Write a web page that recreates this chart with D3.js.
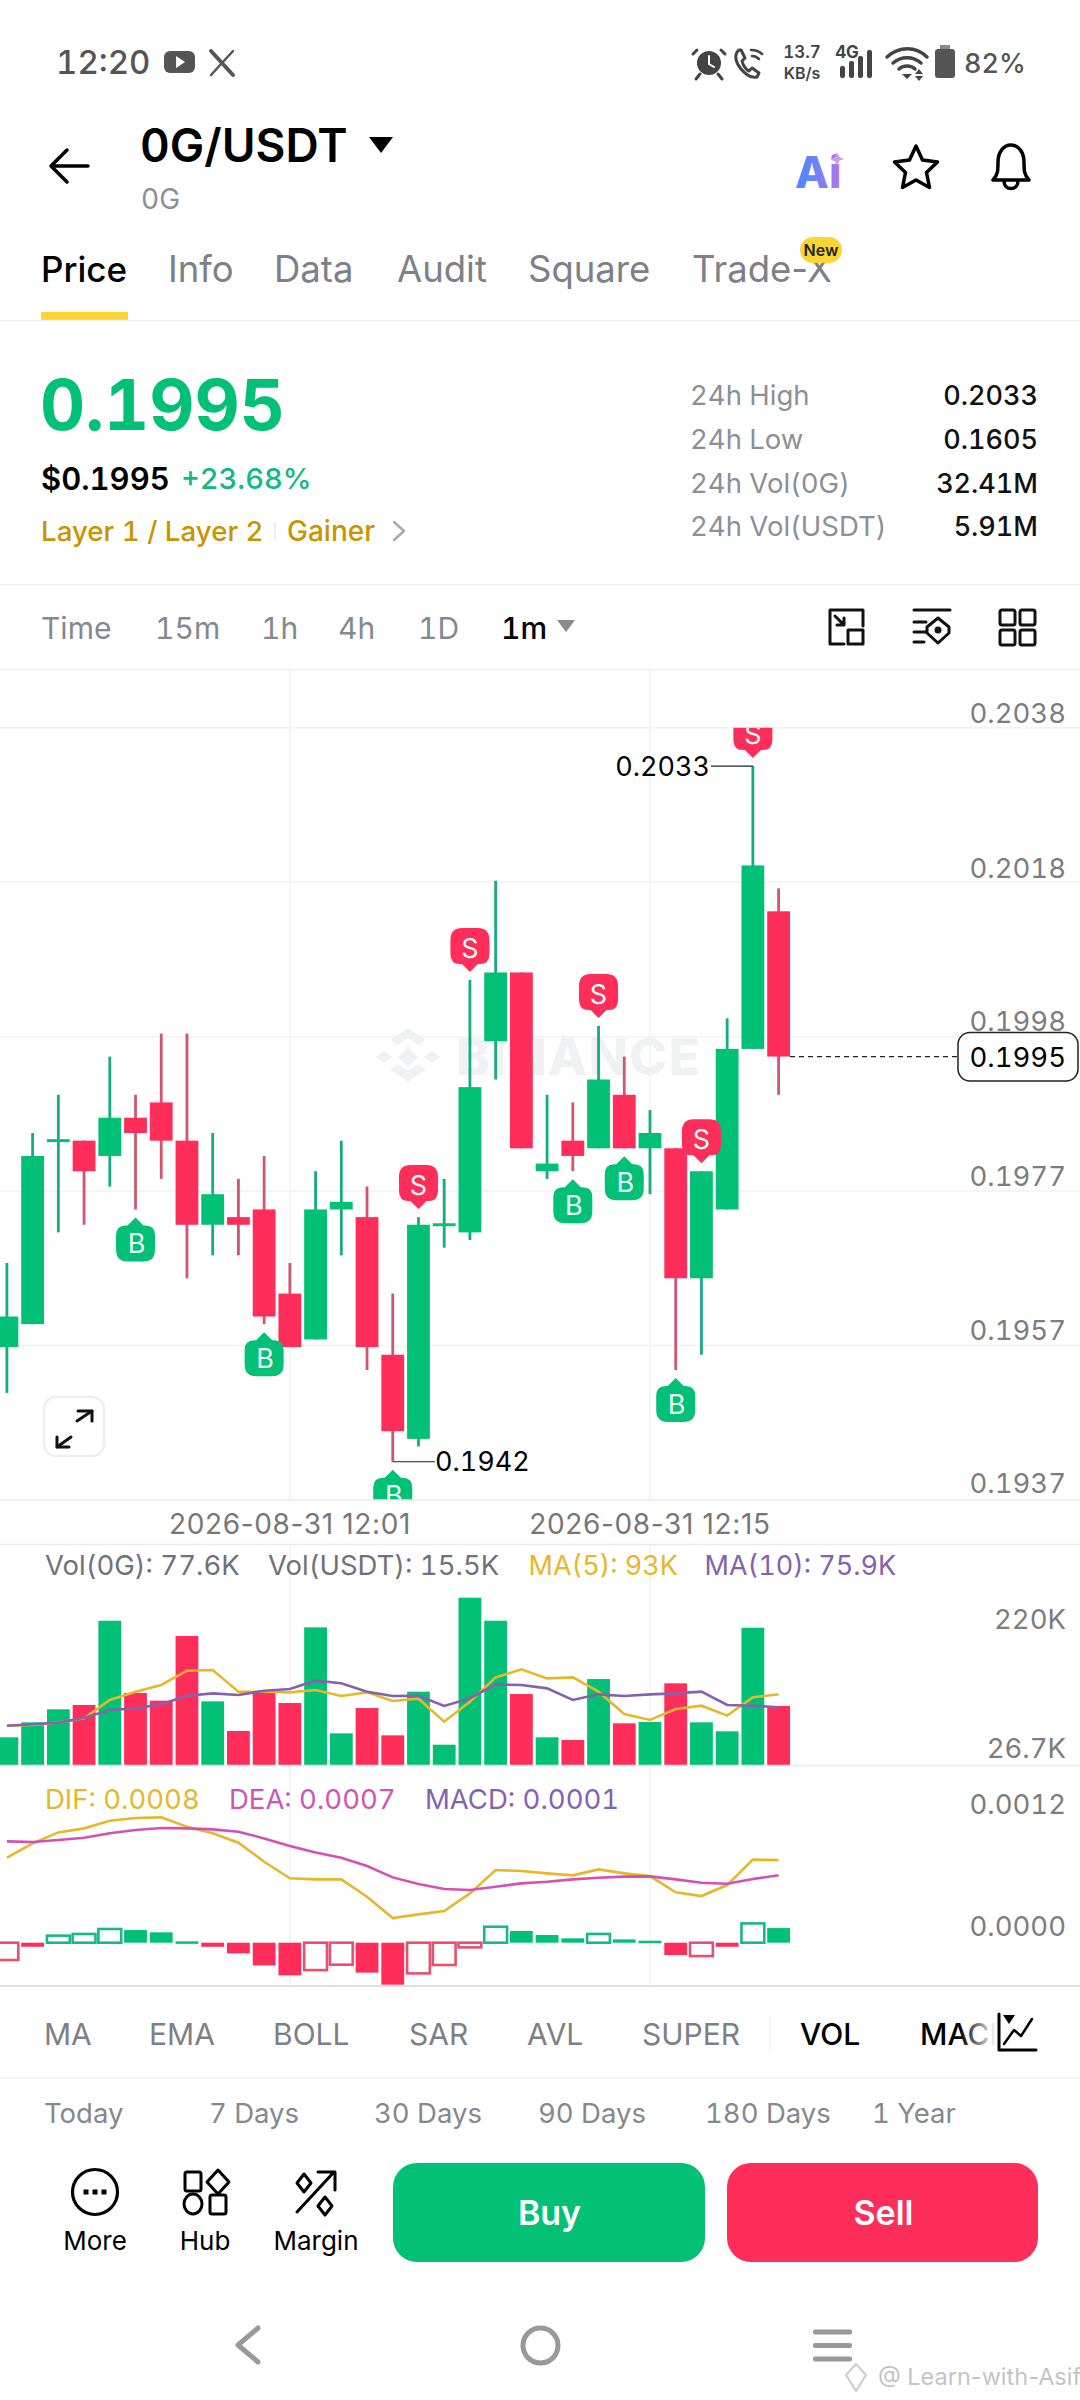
<!DOCTYPE html>
<html>
<head>
<meta charset="utf-8">
<script src="https://cdn.jsdelivr.net/npm/d3@7/dist/d3.min.js"></script>
<style>
html, body { margin: 0; background: #fff; }
svg { display: block; }
text { font-family: Inter, "Noto Sans", sans-serif; font-variant-numeric: tabular-nums; }
</style>
</head>
<body>
<script>
// candles (4 decimals, same tick as the exchange)
const opens  = [.1957,.1960,.1984,.1984,.1982,.1987,.1989,.1984,.1973,.1974,.1975,.1964,.1958,.1975,.1974,.1956,.1945,.1973,.1972,.1997,.2006,.1980,.1984,.1983,.1990,.1983,.1983,.1966,.1975,.1996,.2014];
const highs  = [.1968,.1985,.1990,.1984,.1995,.1990,.1998,.1998,.1985,.1979,.1982,.1968,.1980,.1984,.1978,.1964,.1974,.1979,.2005,.2018,.2006,.1990,.1989,.1999,.1995,.1988,.1983,.1980,.2000,.2033,.2017];
const lows   = [.1951,.1960,.1972,.1973,.1978,.1975,.1979,.1966,.1969,.1969,.1960,.1957,.1958,.1969,.1954,.1942,.1944,.1970,.1971,.1992,.1983,.1979,.1980,.1983,.1983,.1977,.1954,.1956,.1975,.1996,.1990];
const closes = [.1961,.1982,.1984,.1980,.1987,.1985,.1984,.1973,.1977,.1973,.1961,.1957,.1975,.1976,.1957,.1946,.1973,.1973,.1991,.2006,.1983,.1981,.1982,.1992,.1983,.1985,.1966,.1980,.1996,.2020,.1995];
const priceTicks = [.2038,.20178,.19976,.19774,.19572,.1937];
const buyMarks  = [5,10,15,22,24,26];
const sellMarks = [16,18,23,27,29];

// volume in thousands of 0G
const vols = [36.4,56.1,73.2,78.9,189.7,94.7,84.6,169.6,83.7,44.7,96,81.5,181,41.6,74.9,39,96.4,26.7,220,189.7,93.3,36.4,32.9,113,54.8,56.5,107.4,56.1,44.3,180.5,77.6];
const ma5  = [51.7,52.6,56.1,61.3,85.5,96.4,105.2,124,124.9,96.4,96.4,95.5,98.6,90.7,95.5,84.1,87.2,57,83.3,115.2,125.8,113.9,115.2,96.4,67,59.2,73.6,78,64.9,89,93];
const ma10 = [51.7,53.5,55.7,62.2,72.3,74.5,79.8,91.1,94.2,92,97.7,99.9,110.9,107.4,96.4,90.7,91.1,77.6,87.6,106,105.2,100.8,85.5,92.9,90.7,92.9,94.2,96.4,78.9,78,75.9];
const volTicks = [220,26.7];

// macd pane, in thousandths
const dif  = [.820,.958,1.064,1.103,1.177,1.203,1.209,1.119,1.055,.965,.781,.621,.611,.611,.444,.238,.273,.305,.476,.701,.691,.669,.650,.707,.669,.643,.486,.450,.556,.801,.797];
const dea  = [.977,.971,.990,1.013,1.055,1.087,1.106,1.103,1.093,1.071,1.006,.932,.871,.820,.740,.630,.566,.518,.508,.540,.572,.588,.611,.627,.637,.640,.611,.579,.569,.614,.650];
const hist = [-.167,-.039,.068,.084,.132,.122,.100,.013,-.039,-.103,-.219,-.315,-.264,-.212,-.289,-.405,-.296,-.215,-.045,.154,.113,.074,.042,.084,.032,.019,-.119,-.129,-.039,.186,.141];
const hollow = [1,0,1,1,1,0,0,0,0,0,0,0,1,1,0,0,1,1,1,1,0,0,0,1,0,0,0,1,0,1,0];
const macdTicks = [1.2,0];

const tabs = ["Price","Info","Data","Audit","Square","Trade-X"];
const tabX = [41,168,274,397,528,692];
const statNames = ["24h High","24h Low","24h Vol(0G)","24h Vol(USDT)"];
const statVals = ["0.2033","0.1605","32.41M","5.91M"];
const intervals = ["Time","15m","1h","4h","1D","1m"];
const intervalX = [41,155,261,338,418,501];
const indicators = ["MA","EMA","BOLL","SAR","AVL","SUPER"];
const indicatorX = [44,149,273,409,527,642];
const ranges = ["Today","7 Days","30 Days","90 Days","180 Days","1 Year"];
const rangeX = [44,209,374,538,705,872];

const GREEN = "#02c076", RED = "#ff2d59", WICK_G = "#17ab80", WICK_R = "#d0566f";
const YEL = "#e5b82c", PUR = "#8661ad", PINK = "#d64fb3";
const GRID = "#f1f2f3", GRAY = "#8b8f96", AXIS = "#7d7d7d";

const svg = d3.select("body").append("svg").attr("width", 1080).attr("height", 2400);

const label = (x, y, s, size, fill, o = {}) => svg.append("text")
	.attr("x", x).attr("y", y).attr("dy", ".36em")
	.attr("font-size", size).attr("fill", fill)
	.attr("font-weight", o.w || 400)
	.attr("text-anchor", o.a || "start")
	.attr("letter-spacing", o.ls || null)
	.style("font-variant-numeric", o.prop ? "normal" : null)
	.text(s);
const hline = (y, c = "#eff0f2", w = 1.5, x1 = 0, x2 = 1080) => svg.append("line")
	.attr("x1", x1).attr("x2", x2).attr("y1", y).attr("y2", y).attr("stroke", c).attr("stroke-width", w);
const stroke = (d, c = "#000", w = 3) => svg.append("path").attr("d", d).attr("fill", "none")
	.attr("stroke", c).attr("stroke-width", w).attr("stroke-linecap", "round").attr("stroke-linejoin", "round");
const fillp = (d, c = "#000") => svg.append("path").attr("d", d).attr("fill", c);

/* ---- status bar ---- */
label(56, 62, "12:20", 33, "#555", {w: 500});
svg.append("rect").attr("x", 164).attr("y", 51).attr("width", 31).attr("height", 22).attr("rx", 6).attr("fill", "#555");
fillp("M176 56l9 6-9 6z", "#fff");
stroke("M211 51L233 75", "#555", 4);
stroke("M233 51L211 75", "#555", 2.5);

const gs = "#444";
svg.append("circle").attr("cx", 709).attr("cy", 63).attr("r", 12).attr("fill", gs);
stroke("M709 56v8l5 3", "#fff", 2);
stroke("M697 50l-4 4M721 50l4 4M700 74l-4 5M718 74l4 5", gs, 3);
stroke("M739 50c-5 4-4 12 2 19s12 9 16 8l2-4-7-5-3 3c-3-1-6-6-7-10l3-3-4-8z", gs, 3);
stroke("M751 50c4 0 8 1 11 4M752 56c3 0 5 1 7 3", gs, 2.5);
label(802, 52, "13.7", 17, gs, {a: "middle", w: 600});
label(802, 73, "KB/s", 16, gs, {a: "middle", w: 600});
label(847, 52, "4G", 17, gs, {a: "middle", w: 700});
[[840,12],[849,17],[858,22],[867,28]].forEach(b => svg.append("rect")
	.attr("x", b[0]).attr("y", 78 - b[1]).attr("width", 5).attr("height", b[1]).attr("rx", 2).attr("fill", gs));
stroke("M887 57c12-11 29-11 40 0M893 63c8-7 20-7 28 0M899 69c4-4 12-4 16 0", gs, 3.5);
fillp("M902 74h10l-5 5zM915 74l4-5 4 5zM915 76h8l-4 5z", gs);
svg.append("rect").attr("x", 935).attr("y", 49).attr("width", 20).attr("height", 29).attr("rx", 3).attr("fill", "#555");
svg.append("rect").attr("x", 940).attr("y", 45).attr("width", 10).attr("height", 4).attr("fill", "#888");
label(964, 63, "82%", 27, "#555", {w: 500});

/* ---- header ---- */
stroke("M88 166H52M67 150L51 166L67 182", "#000", 3.5);
label(140, 145, "0G/USDT", 46, "#000", {w: 600});
fillp("M369 137h24l-12 16z");
label(141, 199, "0G", 28, GRAY);

const grad = svg.append("defs").append("linearGradient").attr("id", "ai");
grad.append("stop").attr("offset", "0").attr("stop-color", "#3f8cff");
grad.append("stop").attr("offset", "1").attr("stop-color", "#b074ee");
label(795, 172, "Ai", 44, "url(#ai)", {w: 800});
fillp("M837 152l2 5 5 2-5 2-2 5-2-5-5-2 5-2z", "#c79cf0");
stroke("M916 146l6.500 14 15 2-11 10.500 3 15-13.500-7.500-13.500 7.500 3-15-11-10.500 15-2z", "#000", 3.5);
stroke("M993 180h36c-5-5-5-10-5-18c0-9-5-17-13-17s-13 8-13 17c0 8 0 13-5 18zM1004 181c0 10 14 10 14 0", "#000", 3.5);

tabs.forEach((t, i) => label(tabX[i], 269, t, i == 0 ? 35 : 36.5, i == 0 ? "#000" : "#7c8087", {w: i == 0 ? 500 : 400, prop: true}));
svg.append("rect").attr("x", 821 - 21).attr("y", 237).attr("width", 42).attr("height", 26).attr("rx", 13).attr("fill", "#fcd535");
label(821, 250, "New", 16, "#222", {a: "middle", w: 600});
svg.append("rect").attr("x", 41).attr("y", 312).attr("width", 87).attr("height", 8).attr("fill", "#fcd535");
hline(320.5);

/* ---- price block ---- */
label(40, 405, "0.1995", 70, GREEN, {w: 700});
label(41, 479, "$0.1995", 31, "#000", {w: 600});
label(181, 479, "+23.68%", 29, "#12b886", {w: 500});
label(41, 531, "Layer 1 / Layer 2", 27.7, "#c99400", {w: 500});
svg.append("line").attr("x1", 275).attr("x2", 275).attr("y1", 522).attr("y2", 540).attr("stroke", "#e6e8ea").attr("stroke-width", 1.5);
label(287, 531, "Gainer", 28, "#c99400", {w: 500});
stroke("M394 522l10 9-10 9", "#aaa", 2.5);
statNames.forEach((t, i) => {
	let y = [395, 439, 483, 526][i];
	label(690, y, t, 27.5, GRAY);
	label(1038, y, statVals[i], 27, "#111", {a: "end", w: 500});
});
hline(584.5);

intervals.forEach((t, i) => label(intervalX[i], 628, t, 30, i == 5 ? "#000" : "#84888f", {w: i == 5 ? 500 : 400}));
fillp("M557 620h18l-9 12z", "#8a8a8a");
// toolbar icons
stroke("M830 610h33v16M830 610v34h14M848 630h15v14h-15zM835 616l9 9M844 618v7h-7", "#111", 3);
stroke("M914 610h36M914 622h12M914 632h12M914 642h10", "#111", 3);
stroke("M938 618l11 9v6l-11 10l-11-10v-6z", "#111", 3);
svg.append("circle").attr("cx", 938).attr("cy", 630).attr("r", 3.500).attr("fill", "#111");
[[1000,610],[1020,610],[1000,630],[1020,630]].forEach(b => svg.append("rect")
	.attr("x", b[0]).attr("y", b[1]).attr("width", 15).attr("height", 15).attr("rx", 2)
	.attr("fill", "none").attr("stroke", "#111").attr("stroke-width", 3));
hline(669.5);

/* ---- chart scales ---- */
const x = d3.scaleLinear().domain([0, 30]).range([6.9, 778.6]);
const y = d3.scaleLinear().domain([.2038, .1937]).range([727.8, 1500]);
const yVol = d3.scaleLinear().domain([0, 220]).range([1765, 1597.7]);
const yMacd = d3.scaleLinear().domain([0, 1.2]).range([1942.7, 1818.3]);
const idx = d3.range(opens.length);
const BODY = 22.8;

// vertical grid (two segments, date row stays clean)
[290, 650].forEach(gx => {
	[[670, 1500], [1545, 1985]].forEach(s => svg.append("line")
		.attr("x1", gx).attr("x2", gx).attr("y1", s[0]).attr("y2", s[1])
		.attr("stroke", GRID).attr("stroke-width", 1.500));
});

// price grid + axis
svg.append("g").selectAll("line").data(priceTicks).join("line")
	.attr("x1", 0).attr("x2", 1080).attr("y1", d => y(d)).attr("y2", d => y(d))
	.attr("stroke", GRID).attr("stroke-width", 1.5);

// watermark behind the candles
const wm = svg.append("g").attr("fill", "#f0f1f2");
wm.append("path").attr("d", "M408 1028l18 12-8 5-10-7-10 7-8-5zM376 1057l8-6 8 6-8 6zM424 1057l8-6 8 6-8 6zM408 1047l10 10-10 10-10-10zM390 1069l8-5 10 7 10-7 8 5-18 13z");
wm.append("text").attr("x", 456).attr("y", 1075).attr("font-size", 51).attr("font-weight", 800).attr("letter-spacing", 1.5).text("BINANCE");

const axisOf = (scale, ticks, fmt, dys) => {
	let g = svg.append("g").attr("transform", "translate(1066,0)")
		.call(d3.axisRight(scale).tickValues(ticks).tickFormat(fmt).tickSize(0).tickPadding(0));
	g.select(".domain").remove();
	g.selectAll("text").attr("text-anchor", "end").attr("font-size", 27.5)
		.attr("font-family", "Inter").attr("fill", AXIS)
		.attr("dy", (d, i) => (dys[i] + 0) + "px")
		.attr("dominant-baseline", "central");
	return g;
};
axisOf(y, priceTicks, d3.format(".4f"), [-15, -15, -16, -16, -16, -17.5]);

// candles
const wicks = svg.append("g").selectAll("line").data(idx).join("line")
	.attr("x1", i => x(i)).attr("x2", i => x(i))
	.attr("y1", i => y(highs[i])).attr("y2", i => y(lows[i]))
	.attr("stroke", i => closes[i] >= opens[i] ? WICK_G : WICK_R).attr("stroke-width", 2.8);
svg.append("g").selectAll("rect").data(idx).join("rect")
	.attr("x", i => x(i) - BODY / 2).attr("width", BODY)
	.attr("y", i => opens[i] == closes[i] ? y(opens[i]) - 1.5 : y(Math.max(opens[i], closes[i])))
	.attr("height", i => Math.max(3, Math.abs(y(opens[i]) - y(closes[i]))))
	.attr("fill", i => closes[i] >= opens[i] ? GREEN : RED);

// buy / sell markers
svg.select("defs").append("clipPath").attr("id", "pane").append("rect")
	.attr("x", 0).attr("y", 727.8).attr("width", 1080).attr("height", 772.2);
const marks = svg.append("g").attr("clip-path", "url(#pane)");
const tag = (i, isSell) => {
	let cx = x(i), tip = isSell ? y(highs[i]) - 8 : y(lows[i]) + 8, d = isSell ? -1 : 1;
	let g = marks.append("g").attr("transform", `translate(${cx},${tip}) scale(1,${d})`);
	g.append("path").attr("d", "M0 0L8 8H10Q19.500 8 19.500 18V32Q19.500 44 8 44H-8Q-19.500 44 -19.500 32V18Q-19.500 8 -10 8H-8Z")
		.attr("fill", isSell ? RED : GREEN);
	marks.append("text").attr("x", cx + (isSell ? 0 : 1)).attr("y", tip + d * (isSell ? 24 : 26)).attr("dy", ".36em")
		.attr("text-anchor", "middle").attr("font-size", 27).attr("fill", "#eafff7").text(isSell ? "S" : "B");
};
buyMarks.forEach(i => tag(i, false));
sellMarks.forEach(i => tag(i, true));

// high / low callouts
hline(y(.2033), "#222", 1.2, 711, x(29));
label(710, y(.2033), "0.2033", 27, "#000", {a: "end"});
hline(y(.1942), "#222", 1.2, x(15), 435);
label(435, y(.1942), "0.1942", 27, "#000");

// last price
svg.append("line").attr("x1", x(30) + BODY / 2).attr("x2", 958).attr("y1", y(.1995)).attr("y2", y(.1995))
	.attr("stroke", "#222").attr("stroke-width", 1.3).attr("stroke-dasharray", "5 4");
svg.append("rect").attr("x", 958).attr("y", 1032.5).attr("width", 120).attr("height", 48.5).attr("rx", 12)
	.attr("fill", "#fff").attr("stroke", "#222").attr("stroke-width", 1.5);
label(1066, 1057, "0.1995", 27.5, "#000", {a: "end"});

// expand button
svg.append("rect").attr("x", 44).attr("y", 1397).attr("width", 60).attr("height", 59).attr("rx", 12)
	.attr("fill", "#fff").attr("stroke", "#eeeff0").attr("stroke-width", 2.5);
stroke("M78 1411h14v10M57 1437v10h12", "#111", 3);
stroke("M77 1421l15-10M57 1447l14-10", "#111", 3);
hline(1500, "#eceded", 1.5);

/* ---- dates ---- */
label(290, 1524, "2026-08-31 12:01", 28, "#777", {a: "middle", prop: true, ls: .65});
label(650, 1524, "2026-08-31 12:15", 28, "#777", {a: "middle", prop: true, ls: .65});
hline(1544.5, "#e8e9ea", 1.5);

/* ---- volume pane ---- */
label(45, 1565, "Vol(0G): 77.6K", 27.500, "#6f7278");
label(268, 1565, "Vol(USDT): 15.5K", 27.500, "#6f7278");
label(528.6, 1565, "MA(5): 93K", 27, YEL);
label(704.6, 1565, "MA(10): 75.9K", 27, PUR);
svg.append("g").selectAll("rect").data(idx).join("rect")
	.attr("x", i => x(i) - BODY / 2).attr("width", BODY)
	.attr("y", i => yVol(vols[i])).attr("height", i => yVol(0) - yVol(vols[i]))
	.attr("fill", i => closes[i] >= opens[i] ? GREEN : RED);
const volLine = d3.line().x((d, i) => x(i)).y(d => yVol(d));
svg.append("path").attr("d", volLine(ma5)).attr("fill", "none").attr("stroke", YEL).attr("stroke-width", 2.6);
svg.append("path").attr("d", volLine(ma10)).attr("fill", "none").attr("stroke", PUR).attr("stroke-width", 2.6);
axisOf(yVol, volTicks, d => d + "K", [20.5, 3]);
hline(1765.5, "#e8e9ea", 1.5);

/* ---- macd pane ---- */
label(45, 1799, "DIF: 0.0008", 27.500, YEL);
label(229, 1799, "DEA: 0.0007", 27.500, "#cf55b4");
label(425, 1799, "MACD: 0.0001", 27.500, PUR);
const mLine = d3.line().x((d, i) => x(i)).y(d => yMacd(d));
svg.append("path").attr("d", mLine(dif)).attr("fill", "none").attr("stroke", YEL).attr("stroke-width", 2.6);
svg.append("path").attr("d", mLine(dea)).attr("fill", "none").attr("stroke", PINK).attr("stroke-width", 2.6);
svg.append("g").selectAll("rect").data(idx).join("rect")
	.attr("x", i => x(i) - BODY / 2)
	.attr("width", BODY)
	.attr("y", i => hist[i] > 0 ? yMacd(hist[i]) : yMacd(0))
	.attr("height", i => Math.max(2.5, Math.abs(yMacd(hist[i]) - yMacd(0))))
	.attr("fill", i => hollow[i] ? "#fff" : (hist[i] > 0 ? GREEN : RED))
	.attr("stroke", i => hollow[i] ? (hist[i] > 0 ? "#18b88a" : "#e8506f") : "none")
	.attr("stroke-width", 2.6);
axisOf(yMacd, macdTicks, d => (d / 1000).toFixed(4), [-15, -17.7]);
hline(1986, "#dfe0e2", 2);

/* ---- indicator row ---- */
indicators.forEach((t, i) => label(indicatorX[i], 2034, t, 30, "#7c8087"));
svg.append("line").attr("x1", 770).attr("x2", 770).attr("y1", 2016).attr("y2", 2050).attr("stroke", "#f0f1f2").attr("stroke-width", 1.5);
label(800, 2034, "VOL", 30, "#000", {w: 500});
label(920, 2034, "MACD", 30, "#000", {w: 500});
const fade = svg.select("defs").append("linearGradient").attr("id", "fade");
fade.append("stop").attr("offset", "0").attr("stop-color", "#fff").attr("stop-opacity", 0);
fade.append("stop").attr("offset", "1").attr("stop-color", "#fff");
svg.append("rect").attr("x", 960).attr("y", 2010).attr("width", 36).attr("height", 50).attr("fill", "url(#fade)");
svg.append("rect").attr("x", 996).attr("y", 2010).attr("width", 84).attr("height", 50).attr("fill", "#fff");
stroke("M999 2014v36h37", "#000", 3);
stroke("M1004 2044l10-14 7 6 11-17", "#000", 2.5);
fillp("M1003 2015h12l-6 9z");
hline(2078);

ranges.forEach((t, i) => label(rangeX[i], 2113, t, 27.5, "#84888f"));

/* ---- bottom actions ---- */
svg.append("circle").attr("cx", 95).attr("cy", 2192).attr("r", 22.5)
	.attr("fill", "none").attr("stroke", "#000").attr("stroke-width", 3.2);
[86, 95, 104].forEach(cx => svg.append("rect").attr("x", cx - 2.5).attr("y", 2189.5).attr("width", 5).attr("height", 5).attr("fill", "#000"));
label(95, 2241, "More", 26, "#000", {a: "middle"});
svg.append("rect").attr("x", 185).attr("y", 2172).attr("width", 16).attr("height", 19).attr("rx", 2).attr("fill", "none").attr("stroke", "#000").attr("stroke-width", 3);
stroke("M218 2170l11 12-11 12-11-12z", "#000", 3);
svg.append("ellipse").attr("cx", 193).attr("cy", 2204).attr("rx", 9).attr("ry", 10).attr("fill", "none").attr("stroke", "#000").attr("stroke-width", 3);
svg.append("rect").attr("x", 210).attr("y", 2195).attr("width", 16).attr("height", 19).attr("rx", 2).attr("fill", "none").attr("stroke", "#000").attr("stroke-width", 3);
label(205, 2241, "Hub", 26, "#000", {a: "middle"});
stroke("M297 2212L334 2172M318 2172h17v18", "#000", 3);
stroke("M304 2174l7 9-7 9-7-9zM325 2197l7 9-7 9-7-9z", "#000", 3);
label(316, 2241, "Margin", 26, "#000", {a: "middle"});

svg.append("rect").attr("x", 393).attr("y", 2163).attr("width", 312).attr("height", 99).attr("rx", 24).attr("fill", GREEN);
svg.append("rect").attr("x", 727).attr("y", 2163).attr("width", 311).attr("height", 99).attr("rx", 24).attr("fill", RED);
label(549.5, 2213, "Buy", 34, "#fff", {a: "middle", w: 600});
label(883.5, 2213, "Sell", 34, "#fff", {a: "middle", w: 600});

/* ---- android nav ---- */
stroke("M258 2328L238 2345L258 2362", "#999", 5);
svg.append("circle").attr("cx", 540.5).attr("cy", 2345.5).attr("r", 17.5).attr("fill", "none").attr("stroke", "#999").attr("stroke-width", 5);
[2332, 2345.5, 2359].forEach(ly => svg.append("rect").attr("x", 813).attr("y", ly - 2.5).attr("width", 39).attr("height", 5).attr("rx", 2).attr("fill", "#999"));

// uploader's mark
stroke("M856 2364l10 11-10 16-10-16z", "#ccc", 2);
label(878, 2377, "@ Learn-with-Asif", 23.5, "#c4c4c4", {prop: true});
</script>
</body>
</html>
